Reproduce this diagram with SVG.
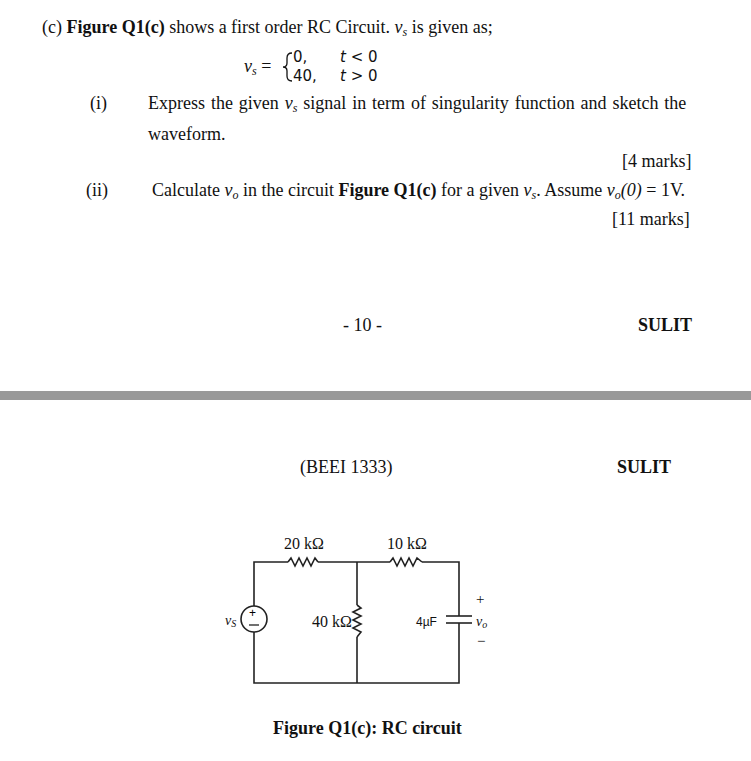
<svg xmlns="http://www.w3.org/2000/svg" width="751" height="761" viewBox="0 0 751 761">
<style>
.t{font-family:"Liberation Serif",serif;font-size:18px;fill:#111}
.b{font-weight:bold}
.w{fill:none;stroke:#222;stroke-width:1.6}
.m{font-family:"DejaVu Sans",sans-serif;font-size:15px;fill:#111}
.i{font-style:italic}
</style>
<rect width="751" height="761" fill="#fff"/>
<text class="t" x="42" y="33">(c)  <tspan class="b">Figure Q1(c)</tspan> shows a first order RC Circuit. <tspan class="i">v</tspan><tspan class="i" font-size="12" dy="3">s</tspan><tspan dy="-3"> is given as;</tspan></text>
<text class="t i" x="244" y="72">v<tspan font-size="12" dy="3">s</tspan><tspan dy="-3" style="font-style:normal"> =</tspan></text>
<path d="M292,53 q-5,0 -5,5 v5 q0,4 -4,4 q4,0 4,4 v5 q0,5 5,5" fill="none" stroke="#111" stroke-width="1.3"/>
<text class="m" x="293" y="62">0,</text>
<text class="m" x="293" y="81">40,</text>
<text class="m" x="340" y="62"><tspan class="i">t</tspan> &lt; 0</text>
<text class="m" x="340" y="81"><tspan class="i">t</tspan> &gt; 0</text>
<text class="t" x="90" y="109">(i)</text>
<text class="t" x="148" y="109" word-spacing="1.4">Express the given <tspan class="i">v</tspan><tspan class="i" font-size="12" dy="3">s</tspan><tspan dy="-3"> signal in term of singularity function and sketch the</tspan></text>
<text class="t" x="148" y="140">waveform.</text>
<text class="t" x="622" y="167">[4 marks]</text>
<text class="t" x="86" y="196">(ii)</text>
<text class="t" x="152" y="196">Calculate <tspan class="i">v</tspan><tspan class="i" font-size="12" dy="3">o</tspan><tspan dy="-3"> in the circuit </tspan><tspan class="b">Figure Q1(c)</tspan> for a given <tspan class="i">v</tspan><tspan class="i" font-size="12" dy="3">s</tspan><tspan dy="-3">. Assume </tspan><tspan class="i">v</tspan><tspan class="i" font-size="12" dy="3">o</tspan><tspan dy="-3" class="i">(0)</tspan> = 1V.</text>
<text class="t" x="612" y="225">[11 marks]</text>
<text class="t" x="343" y="331">- 10 -</text>
<text class="t b" x="638" y="331">SULIT</text>
<rect x="0" y="391" width="751" height="9" fill="#999"/>
<text class="t" x="300" y="473">(BEEI 1333)</text>
<text class="t b" x="617" y="473">SULIT</text>
<g id="wires" class="w">
<polyline points="288,562 254,562 254,606"/>
<polyline points="254,632 254,683 459,683 459,623"/>
<line x1="318" y1="562" x2="390" y2="562"/>
<polyline points="422,562 459,562 459,616"/>
<line x1="357" y1="562" x2="357" y2="605"/>
<line x1="357" y1="637" x2="357" y2="683"/>
</g>
<g id="r20" class="w"><polyline points="288,562 291,558 295,566 299,558 303,566 307,558 311,566 315,558 318,562"/></g>
<g id="r10" class="w"><polyline points="390,562 393,558 397,566 401,558 405,566 409,558 413,566 417,558 422,562"/></g>
<g id="r40" class="w"><polyline points="357,605 361,608 353,612 361,616 353,620 361,624 353,628 361,632 357,637"/></g>
<g id="cap" class="w"><line x1="446" y1="616" x2="472" y2="616"/><line x1="446" y1="623" x2="472" y2="623"/></g>
<g id="src"><circle cx="254" cy="619" r="13" class="w"/>
<text x="249" y="617" font-family="Liberation Sans,sans-serif" font-size="12">+</text>
<line x1="249" y1="625" x2="259" y2="625" stroke="#222" stroke-width="1.3"/></g>
<g font-family="Liberation Serif,serif" font-size="16" fill="#111">
<text x="284" y="549">20 kΩ</text>
<text x="387" y="549">10 kΩ</text>
<text x="312" y="627">40 kΩ</text>
<text x="416" y="626" font-family="Liberation Sans,sans-serif" font-size="12">4µF</text>
<text x="225" y="625" font-style="italic" font-size="14">v<tspan font-size="10" dy="2">S</tspan></text>
<text x="476" y="604" font-size="15">+</text>
<text x="476" y="626" font-style="italic" font-size="14">v<tspan font-size="10" dy="2">o</tspan></text>
<text x="477" y="646" font-size="15">−</text>
</g>
<text class="t b" x="273" y="734">Figure Q1(c): RC circuit</text>
</svg>
